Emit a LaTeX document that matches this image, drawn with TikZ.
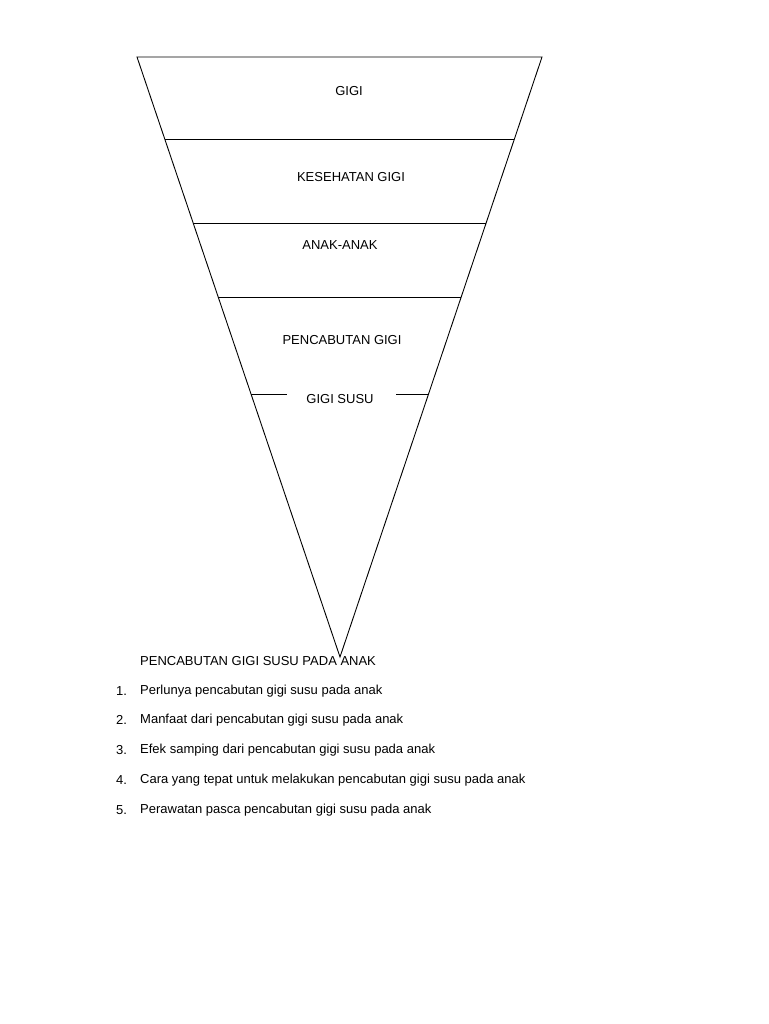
\documentclass[tikz,border=0pt]{standalone}
\usepackage{fontspec}
\setmainfont{Liberation Sans}
\begin{document}
\begin{tikzpicture}[x=1pt,y=-1pt,
  lbl/.style={font=\fontsize{13}{15}\selectfont,inner sep=0pt},
  txt/.style={lbl,anchor=west},
  ln/.style={line width=0.9pt}]
\useasboundingbox (0,0) rectangle (768,1024);
\coordinate (tl) at (137,57); \coordinate (tr) at (542,57); \coordinate (ap) at (340,657);
\draw[ln] (tl) -- (tr) -- (ap) -- cycle;
\coordinate (a1) at (164.7,139); \coordinate (b1) at (514.4,139);
\coordinate (a2) at (193.2,223); \coordinate (b2) at (486,223);
\coordinate (a3) at (218.2,297); \coordinate (b3) at (461.2,297);
\coordinate (a4) at (251,394); \coordinate (a4e) at (287,394);
\coordinate (b4s) at (396,394); \coordinate (b4) at (428.5,394);
\draw[ln] (a1) -- (b1); \draw[ln] (a2) -- (b2); \draw[ln] (a3) -- (b3);
\draw[line width=0.6pt] (a4) -- (a4e); \draw[line width=0.6pt] (b4s) -- (b4);
\node[lbl] (t1) at (349,91) {GIGI};
\node[lbl] (t2) at (351,177) {KESEHATAN GIGI};
\node[lbl] (t3) at (340,245) {ANAK-ANAK};
\node[lbl] (t4) at (342,340) {PENCABUTAN GIGI};
\node[lbl] (t5) at (340,399) {GIGI SUSU};
\node[txt] (h) at (140,661) {PENCABUTAN GIGI SUSU PADA ANAK};
\foreach \n/\y/\t in {1/691/Perlunya pencabutan gigi susu pada anak,
  2/720/Manfaat dari pencabutan gigi susu pada anak,
  3/750/Efek samping dari pencabutan gigi susu pada anak,
  4/780/Cara yang tepat untuk melakukan pencabutan gigi susu pada anak,
  5/810/Perawatan pasca pencabutan gigi susu pada anak}{
  \node[txt] (n\n) at (116,\y) {\n.};
  \node[txt] (i\n) at (140,\y) {\t};
}
\end{tikzpicture}
\end{document}
